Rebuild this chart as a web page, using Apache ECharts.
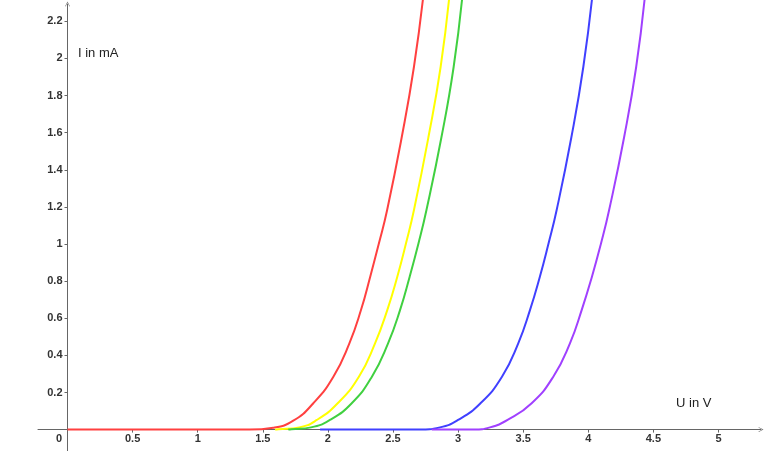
<!DOCTYPE html>
<html>
<head>
<meta charset="utf-8">
<script src="https://cdn.jsdelivr.net/npm/echarts@6/dist/echarts.min.js"></script>
<style>html,body{margin:0;padding:0;background:#fff;}#c{width:768px;height:451px;}</style>
</head>
<body>
<div id="c"></div>
<script>
var xTickStep = 0.5;
var yTickStep = 0.2;
var xLabelMax = 5;
var yLabelMax = 2.2;
var xTitle = 'U in V';
var yTitle = 'I in mA';

// Curves: [U in V, I in mA]
var redData = [[0,0],[1.4,0],[1.58,0.01],[1.734,0.048],[1.888,0.142],[2.042,0.285],[2.165,0.465],[2.254,0.644],[2.325,0.824],[2.392,1.004],[2.455,1.183],[2.567,1.575],[2.661,1.955],[2.735,2.35]];
var yellowData = [[1.594,0],[1.62,0.002],[1.78,0.012],[1.915,0.052],[2.075,0.142],[2.238,0.285],[2.362,0.465],[2.456,0.644],[2.533,0.824],[2.600,1.004],[2.661,1.183],[2.772,1.575],[2.866,1.955],[2.935,2.35]];
var greenData = [[1.696,0],[1.72,0.002],[1.87,0.012],[2.015,0.052],[2.183,0.142],[2.338,0.285],[2.462,0.465],[2.554,0.644],[2.628,0.824],[2.696,1.004],[2.757,1.183],[2.872,1.575],[2.966,1.955],[3.035,2.35]];
var blueData = [[1.94,0],[2.7,0],[2.861,0.012],[3.0,0.052],[3.172,0.142],[3.337,0.285],[3.462,0.465],[3.552,0.644],[3.628,0.824],[3.695,1.004],[3.757,1.183],[3.870,1.575],[3.962,1.955],[4.033,2.35]];
var purpleData = [[2.797,0],[3.12,0],[3.245,0.012],[3.38,0.052],[3.565,0.142],[3.731,0.285],[3.859,0.465],[3.949,0.644],[4.028,0.824],[4.098,1.004],[4.160,1.183],[4.275,1.575],[4.368,1.955],[4.437,2.35]];

var seriesNames = ['red','yellow','green','blue','purple'];
var seriesColors = ['#ff4040','#ffff00','#40d040','#4040ff','#a040ff'];
var seriesData = [redData, yellowData, greenData, blueData, purpleData];

var axisGray = '#666';
var chevron = 'path://M0,10 L5,0 L10,10 L9,10.6 L5,2.2 L1,10.6 Z';

var chart = echarts.init(document.getElementById('c'), null, {renderer:'canvas'});

function fmtNum(v){ return String(Math.round(v*10)/10); }

var series = seriesData.map(function(d,i){
  return {
    name: seriesNames[i], type:'line', xAxisIndex:0, yAxisIndex:0,
    data: d, showSymbol:false, symbol:'none',
    smooth:0.5, clip:false,
    lineStyle:{color:seriesColors[i], width:2},
    itemStyle:{color:seriesColors[i]},
    z: 5+i, animation:false
  };
});

chart.setOption({
  animation:false,
  backgroundColor:'#fff',
  grid:[
    // grid whose left/bottom edges sit on U=0 and I=0
    {left:67.5, right:-15.6, top:-15.84, bottom:21.4, containLabel:false, outerBoundsMode:'none'},
    // grid carrying only the two axis lines with arrows (same scale)
    {left:38, right:7, top:4, bottom:-5, containLabel:false, outerBoundsMode:'none'}
  ],
  xAxis:[
    {type:'value', gridIndex:0, min:0, max:5.5, interval:xTickStep,
     axisLine:{show:false, onZero:false},
     axisTick:{show:true, length:3, lineStyle:{color:axisGray}},
     splitLine:{show:false},
     axisLabel:{show:true, margin:4, fontFamily:'Liberation Sans', fontSize:11, fontWeight:'bold', color:'#333',
       formatter:function(v){
         if (v < 0 || v > xLabelMax + 1e-6) return '';
         if (Math.abs(v) < 1e-6) return '{z|0}';
         return fmtNum(v);
       },
       rich:{z:{padding:[0,17,0,0], fontFamily:'Liberation Sans', fontSize:11, fontWeight:'bold', color:'#333'}}
     }},
    {type:'value', gridIndex:1, min:-0.2266, max:5.3264,
     axisLine:{show:true, onZero:true, symbol:['none', chevron], symbolSize:[9,5], lineStyle:{color:axisGray, width:1}},
     axisTick:{show:false}, axisLabel:{show:false}, splitLine:{show:false}}
  ],
  yAxis:[
    {type:'value', gridIndex:0, min:0, max:2.4, interval:yTickStep,
     axisLine:{show:false, onZero:false},
     axisTick:{show:true, length:3, lineStyle:{color:axisGray}},
     splitLine:{show:false},
     axisLabel:{show:true, margin:5, fontFamily:'Liberation Sans', fontSize:11, fontWeight:'bold', color:'#333',
       formatter:function(v){
         if (v < 0.1 || v > yLabelMax + 1e-6) return '';
         return fmtNum(v);
       }}},
    {type:'value', gridIndex:1, min:-0.1422, max:2.2931,
     axisLine:{show:true, onZero:true, symbol:['none', chevron], symbolSize:[9,5], lineStyle:{color:axisGray, width:1}},
     axisTick:{show:false}, axisLabel:{show:false}, splitLine:{show:false}}
  ],
  graphic:[
    {type:'text', left:78, top:47, z:100, style:{text:yTitle, font:'13px "Liberation Sans"', fill:'#222'}},
    {type:'text', left:676, top:397, z:100, style:{text:xTitle, font:'13px "Liberation Sans"', fill:'#222'}}
  ],
  series: series
});
</script>
</body>
</html>
